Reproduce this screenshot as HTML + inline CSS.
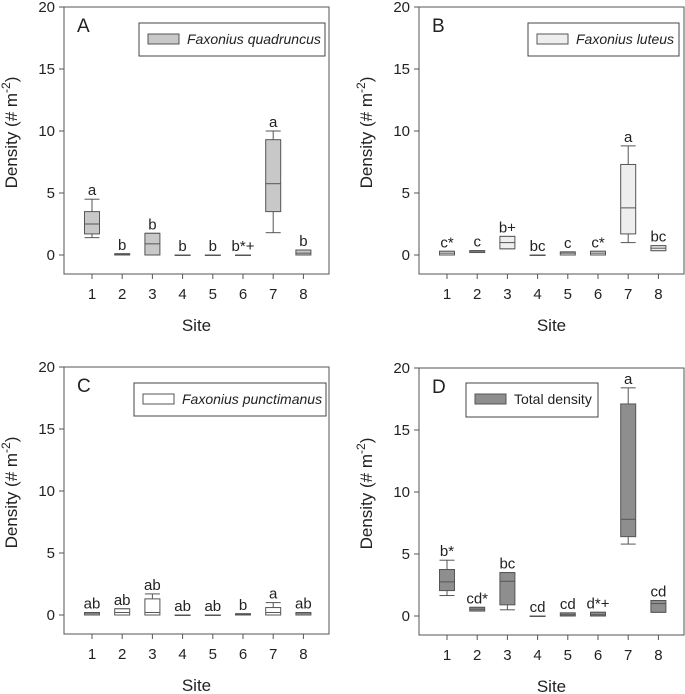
<!DOCTYPE html>
<html><head><meta charset="utf-8"><style>
html,body{margin:0;padding:0;background:#fff;}
svg{display:block;font-family:"Liberation Sans",Arial,sans-serif;}
</style></head><body>
<svg id="chart" width="685" height="694" viewBox="0 0 685 694" xmlns="http://www.w3.org/2000/svg"></svg>
<script>
const sites = [1,2,3,4,5,6,7,8];
const yTicks = [0,5,10,15,20];
// [q1, median, q3, whiskerLow, whiskerHigh]
const boxesA = [[1.7,2.5,3.5,1.4,4.5],[0,0.05,0.1,0,0.1],[0,0.9,1.75,0,1.75],[0,0,0,0,0],[0,0,0,0,0],[0,0,0,0,0],[3.5,5.75,9.3,1.8,10],[0,0.15,0.4,0,0.4]];
const lettersA = ["a","b","b","b","b","b*+","a","b"];
const boxesB = [[0,0.15,0.3,0,0.3],[0.2,0.3,0.35,0.2,0.35],[0.5,1.0,1.5,0.5,1.5],[0,0,0,0,0],[0,0.15,0.25,0,0.25],[0,0.15,0.3,0,0.3],[1.7,3.8,7.3,1.0,8.8],[0.35,0.55,0.75,0.35,0.75]];
const lettersB = ["c*","c","b+","bc","c","c*","a","bc"];
const boxesC = [[0,0.1,0.2,0,0.2],[0,0.2,0.5,0,0.5],[0,0.2,1.3,0,1.7],[0,0,0,0,0],[0,0,0,0,0],[0,0.05,0.1,0,0.1],[0,0.2,0.6,0,1.0],[0,0.1,0.2,0,0.2]];
const lettersC = ["ab","ab","ab","ab","ab","b","a","ab"];
const boxesD = [[2.05,2.75,3.75,1.65,4.5],[0.4,0.55,0.7,0.4,0.7],[0.9,2.8,3.5,0.5,3.5],[0,0,0,0,0],[0,0.1,0.25,0,0.25],[0,0.1,0.3,0,0.3],[6.4,7.8,17.1,5.8,18.4],[0.3,1.0,1.25,0.3,1.25]];
const lettersD = ["b*","cd*","bc","cd","cd","d*+","a","cd"];

const NS="http://www.w3.org/2000/svg";
const svg=document.getElementById('chart');
function mk(tag,attrs,parent){const e=document.createElementNS(NS,tag);for(const k in attrs)e.setAttribute(k,attrs[k]);(parent||svg).appendChild(e);return e;}

const panels=[
 {id:'a',L:64,T:7,letter:'A',boxes:boxesA,letters:lettersA,fill:'#c8c8c8',legend:'Faxonius quadruncus',italic:true,lg:[139,23,186,33]},
 {id:'b',L:419,T:7,letter:'B',boxes:boxesB,letters:lettersB,fill:'#eeeeee',legend:'Faxonius luteus',italic:true,lg:[528,23,151,33]},
 {id:'c',L:64,T:367,letter:'C',boxes:boxesC,letters:lettersC,fill:'#ffffff',legend:'Faxonius punctimanus',italic:true,lg:[134,383,192,33]},
 {id:'d',L:419,T:368,letter:'D',boxes:boxesD,letters:lettersD,fill:'#8e8e8e',legend:'Total density',italic:false,lg:[466,383,132,34]}
];
const W=265,H=267,Y0OFF=248,PX=12.4;
panels.forEach(p=>{
  const g=mk('g',{});
  
  
  const yS=v=>p.T+Y0OFF-v*PX;
  const xS=s=>p.L+28+(s-1)*30.2;
  const frame=mk('rect',{x:p.L,y:p.T,width:W,height:H,fill:'none',stroke:'#555','stroke-width':1},g);
  
  
  yTicks.forEach(t=>{
    mk('line',{x1:p.L-5,x2:p.L,y1:yS(t),y2:yS(t),stroke:'#555'},g);
    const tl=mk('text',{x:p.L-9,y:yS(t)+5,'text-anchor':'end','font-size':15,fill:'#222'},g);
    tl.textContent=t;
    
    
  });
  sites.forEach((s,i)=>{
    const x=xS(s);
    mk('line',{x1:x,x2:x,y1:p.T+H,y2:p.T+H+5,stroke:'#555'},g);
    const xl=mk('text',{x:x,y:p.T+H+25,'text-anchor':'middle','font-size':15,fill:'#222'},g);
    xl.textContent=s;
    
    
    const b=p.boxes[i];
    const bg=mk('g',{},g);
    
    
    const hw=7.5;
    mk('line',{x1:x,x2:x,y1:yS(b[3]),y2:yS(b[0]),stroke:'#555'},bg);
    mk('line',{x1:x,x2:x,y1:yS(b[2]),y2:yS(b[4]),stroke:'#555'},bg);
    mk('line',{x1:x-hw,x2:x+hw,y1:yS(b[3]),y2:yS(b[3]),stroke:'#555'},bg);
    mk('line',{x1:x-hw,x2:x+hw,y1:yS(b[4]),y2:yS(b[4]),stroke:'#555'},bg);
    mk('rect',{x:x-hw,y:yS(b[2]),width:2*hw,height:Math.max(yS(b[0])-yS(b[2]),0.5),fill:p.fill,stroke:'#555'},bg);
    mk('line',{x1:x-hw,x2:x+hw,y1:yS(b[1]),y2:yS(b[1]),stroke:'#555'},bg);
    const lt=mk('text',{x:x,y:yS(b[4])-4,'text-anchor':'middle','font-size':15,fill:'#222'},bg);
    lt.textContent=p.letters[i];
    
    
  });
  const pl=mk('text',{x:p.L+13,y:p.T+25,'font-size':19,fill:'#222'},g);
  pl.textContent=p.letter;
  
  
  const xt=mk('text',{x:p.L+W/2,y:p.T+H+57,'text-anchor':'middle','font-size':17,fill:'#222'},g);
  xt.textContent='Site';
  
  
  const cy=p.T+H/2-2;
  const yt=mk('text',{x:17,y:cy,transform:'rotate(-90 '+(p.L-47)+' '+cy+')','text-anchor':'middle','font-size':17,fill:'#222'},g);
  yt.setAttribute('x',p.L-47+6);
  yt.innerHTML='Density (# m<tspan dy="-7" font-size="12">-2</tspan><tspan dy="7">)</tspan>';
  
  
  const lg=mk('g',{},g);
  
  
  const [lx,ly,lw,lh]=p.lg;
  mk('rect',{x:lx,y:ly,width:lw,height:lh,fill:'#fff',stroke:'#444'},lg);
  mk('rect',{x:lx+9,y:ly+11,width:31,height:10,fill:p.fill,stroke:'#555'},lg);
  const ltx=mk('text',{x:lx+48,y:ly+21,'font-size':14,fill:'#222','font-style':p.italic?'italic':'normal'},lg);
  ltx.textContent=p.legend;
  
  
});
</script>
</body></html>
